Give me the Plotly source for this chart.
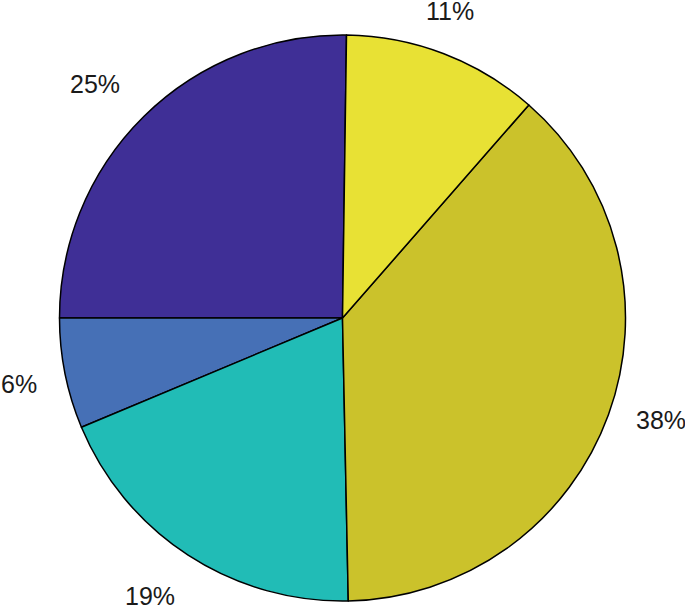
import numpy as np
import plotly.graph_objects as go

# slices in drawing order (counterclockwise from 12 o'clock)
values = [25.2, 6.3, 19.0, 38.2, 11.2]
colors = ['#3F2F96', '#4670B6', '#21BCB6', '#CBC22B', '#E8E134']

W, H = 685, 607
cx, cy, R = 342.5, 318, 283

pct = [v / sum(values) * 100 for v in values]
labels = ['%d%%' % round(p) for p in pct]

fig = go.Figure(
    go.Pie(
        values=values,
        marker=dict(colors=colors, line=dict(color='black', width=1.5)),
        sort=False,
        direction='counterclockwise',
        rotation=-90,
        textinfo='none',
        hoverinfo='skip',
        domain=dict(x=[0, (2 * cx) / W], y=[(H - cy - R) / H, (H - cy + R) / H]),
    )
)

# percent labels at 1.1 x radius on each slice's mid angle (like MATLAB)
start = 90.0
for v, lab in zip(values, labels):
    span = v / sum(values) * 360
    mid = np.radians(start + span / 2)
    start += span
    c, s = np.cos(mid), np.sin(mid)
    px = cx + 1.1 * R * c
    py = cy - 1.1 * R * s
    xa = 'center' if abs(c) < 0.4 else ('left' if c > 0 else 'right')
    ya = 'bottom' if s > 0.5 else ('top' if s < -0.5 else 'middle')
    fig.add_annotation(
        x=px / W, y=1 - py / H, xref='paper', yref='paper',
        text=lab, showarrow=False, xanchor=xa, yanchor=ya,
        borderpad=0, xshift=-2 if xa == 'left' else 0,
        font=dict(size=25, color='#1a1a1a', family='Arial'),
    )

fig.update_layout(
    width=W,
    height=H,
    margin=dict(l=0, r=0, t=0, b=0),
    showlegend=False,
    paper_bgcolor='white',
    plot_bgcolor='white',
)

# drop the browser's default body margin so the figure sits at the corner
fig.write_html('out.html', config={'displayModeBar': False},
               post_script="document.body.style.margin='0';")
